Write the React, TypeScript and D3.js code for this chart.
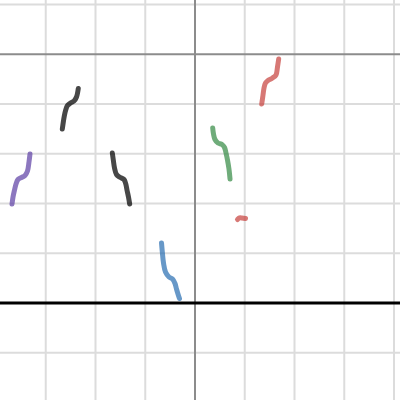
import React, {useEffect, useRef} from "react";
import * as d3 from "d3";

// curves, in graph units: [x, y]
const purpleCurve: [number, number][] = [
    [-3.317, 2.995], [-3.337, 2.834], [-3.367, 2.653], [-3.417, 2.563], [-3.487, 2.523],
    [-3.558, 2.482], [-3.598, 2.392], [-3.628, 2.271], [-3.658, 2.131], [-3.678, 1.990],
];
const blackUpper: [number, number][] = [
    [-2.346, 4.312], [-2.382, 4.141], [-2.432, 4.060], [-2.503, 4.020], [-2.563, 3.970],
    [-2.599, 3.879], [-2.627, 3.759], [-2.667, 3.497],
];
const blackLower: [number, number][] = [
    [-1.662, 3.015], [-1.642, 2.874], [-1.618, 2.714], [-1.578, 2.583], [-1.508, 2.527],
    [-1.427, 2.482], [-1.391, 2.392], [-1.367, 2.271], [-1.337, 2.131], [-1.313, 1.990],
];
const blueCurve: [number, number][] = [
    [-0.673, 1.206], [-0.657, 1.025], [-0.633, 0.804], [-0.593, 0.623], [-0.523, 0.523],
    [-0.452, 0.482], [-0.402, 0.392], [-0.372, 0.281], [-0.342, 0.181], [-0.312, 0.090],
];
const greenCurve: [number, number][] = [
    [0.356, 3.518], [0.372, 3.397], [0.402, 3.286], [0.462, 3.216], [0.543, 3.186],
    [0.593, 3.126], [0.623, 3.015], [0.653, 2.874], [0.683, 2.693], [0.704, 2.492],
];
const redUpper: [number, number][] = [
    [1.682, 4.905], [1.658, 4.744], [1.628, 4.583], [1.558, 4.523], [1.467, 4.472],
    [1.417, 4.422], [1.387, 4.322], [1.367, 4.181], [1.341, 4.0],
];
const redSmall: [number, number][] = [
    [0.854, 1.678], [0.894, 1.709], [0.945, 1.709], [1.015, 1.698],
];

const series = [
    {pts: purpleCurve, color: "#6042a6"},
    {pts: blackUpper, color: "#000000"},
    {pts: blackLower, color: "#000000"},
    {pts: blueCurve, color: "#2d70b3"},
    {pts: greenCurve, color: "#388c46"},
    {pts: redUpper, color: "#c74440"},
    {pts: redSmall, color: "#c74440"},
];

const unit = 49.75;

const App: React.FC = () => {
    const svgRef = useRef<SVGSVGElement | null>(null);

    useEffect(() => {
        if (!svgRef.current) return;
        const svg = d3.select(svgRef.current);
        svg.selectAll("*").remove();

        const width = 400, height = 400;

        const x = d3.scaleLinear()
            .domain([-195 / unit, (width - 195) / unit])
            .range([0, width]);
        const y = d3.scaleLinear()
            .domain([(303 - height) / unit, 303 / unit])
            .range([height, 0]);

        svg.append("rect").attr("width", width).attr("height", height).attr("fill", "#fff");

        const xs = d3.range(Math.ceil(x.domain()[0]), Math.floor(x.domain()[1]) + 1);
        const ys = d3.range(Math.ceil(y.domain()[0]), Math.floor(y.domain()[1]) + 1);

        // minor grid
        const grid = svg.append("g");
        grid.selectAll("line.vx")
            .data(xs.filter(d => d % 5 !== 0))
            .enter().append("line")
            .attr("x1", d => x(d)).attr("x2", d => x(d))
            .attr("y1", 0).attr("y2", height)
            .attr("stroke", "#dcdcdc").attr("stroke-width", 2);
        grid.selectAll("line.hy")
            .data(ys.filter(d => d % 5 !== 0))
            .enter().append("line")
            .attr("y1", d => y(d)).attr("y2", d => y(d))
            .attr("x1", 0).attr("x2", width)
            .attr("stroke", "#dcdcdc").attr("stroke-width", 2);

        // major grid
        grid.selectAll("line.mx")
            .data(xs.filter(d => d % 5 === 0))
            .enter().append("line")
            .attr("x1", d => x(d)).attr("x2", d => x(d))
            .attr("y1", 0).attr("y2", height)
            .attr("stroke", "#8c8c8c").attr("stroke-width", 2);
        grid.selectAll("line.my")
            .data(ys.filter(d => d % 5 === 0 && d !== 0))
            .enter().append("line")
            .attr("y1", d => y(d)).attr("y2", d => y(d))
            .attr("x1", 0).attr("x2", width)
            .attr("stroke", "#8c8c8c").attr("stroke-width", 2);

        // x axis
        svg.append("line")
            .attr("x1", 0).attr("x2", width)
            .attr("y1", y(0)).attr("y2", y(0))
            .attr("stroke", "#000").attr("stroke-width", 3);

        const line = d3.line<[number, number]>()
            .x(d => x(d[0]))
            .y(d => y(d[1]))
            .curve(d3.curveCatmullRom.alpha(0.5));

        svg.selectAll("path.curve")
            .data(series)
            .enter().append("path")
            .attr("class", "curve")
            .attr("d", d => line(d.pts))
            .attr("fill", "none")
            .attr("stroke", d => d.color)
            .attr("stroke-opacity", 0.72)
            .attr("stroke-width", 5)
            .attr("stroke-linecap", "round")
            .attr("stroke-linejoin", "round");
    }, []);

    return (
        <svg ref={svgRef} width={400} height={400}
             style={{position: "fixed", left: 0, top: 0, display: "block"}}/>
    );
};

export default App;
